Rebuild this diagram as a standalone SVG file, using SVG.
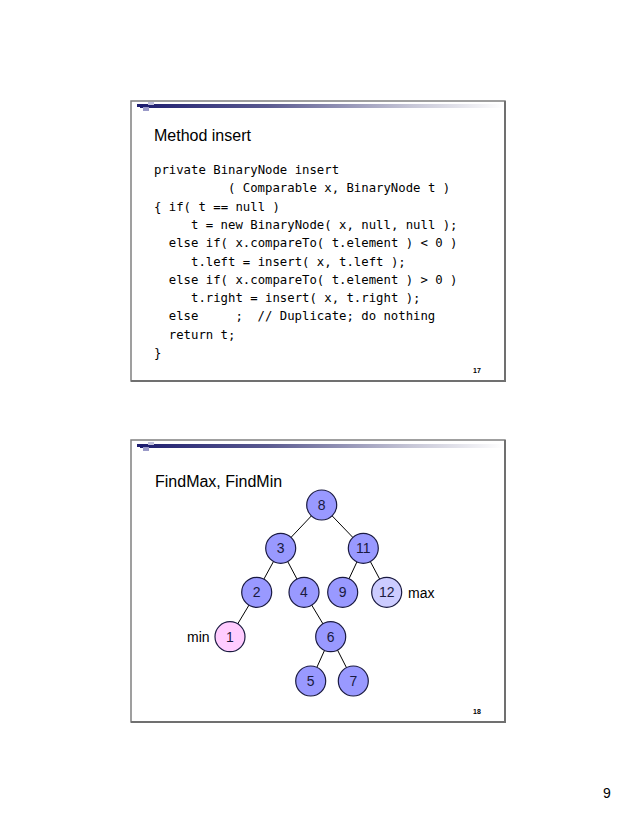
<svg xmlns="http://www.w3.org/2000/svg" width="638" height="826" viewBox="0 0 638 826">
<defs>
<linearGradient id="bar" x1="0" y1="0" x2="1" y2="0">
<stop offset="0" stop-color="#1e1e70"/>
<stop offset="0.35" stop-color="#5a5a90"/>
<stop offset="0.75" stop-color="#c8c8d8"/>
<stop offset="1" stop-color="#ffffff"/>
</linearGradient>
<style>
.slide{fill:#ffffff;stroke:#808080;stroke-width:1.5}
.shadow{fill:none;stroke:#707070;stroke-width:2}
.title{font-family:"Liberation Sans",Arial,sans-serif;font-size:16px;fill:#000}
.code{font-family:"DejaVu Sans Mono","Liberation Mono",monospace;font-size:12.3px;fill:#000}
.num{font-family:"Liberation Sans",Arial,sans-serif;font-size:7px;font-weight:bold;fill:#000;text-anchor:middle}
.node circle{fill:#9999ff;stroke:#1a1a40;stroke-width:1.2}
.node text{font-family:"Liberation Sans",Arial,sans-serif;font-size:14px;fill:#1a1a40;text-anchor:middle}
.lbl{font-family:"Liberation Sans",Arial,sans-serif;font-size:14px;fill:#000}
.edge{stroke:#000;stroke-width:1;fill:none}
</style>
</defs>
<rect width="638" height="826" fill="#ffffff"/>

<!-- Slide 17 -->
<g id="slide17">
<rect class="slide" x="131" y="101" width="374" height="280"/>
<path class="shadow" d="M505,101 V381 H131"/>
<rect x="140" y="104" width="364" height="4" fill="url(#bar)"/>
<rect x="137" y="104" width="6" height="3" fill="#1e1e70"/>
<rect x="143" y="107" width="6" height="4" fill="#9a9ac8"/>
<rect x="148" y="102" width="6" height="3" fill="#c0c0dc"/>
<text class="title" x="154" y="141">Method insert</text>
<g class="code">
<text x="154" y="174">private BinaryNode insert</text>
<text x="228" y="192.3">( Comparable x, BinaryNode t )</text>
<text x="154" y="210.6">{ if( t == null )</text>
<text x="191" y="228.9">t = new BinaryNode( x, null, null );</text>
<text x="168.8" y="247.2">else if( x.compareTo( t.element ) &lt; 0 )</text>
<text x="191" y="265.5">t.left = insert( x, t.left );</text>
<text x="168.8" y="283.8">else if( x.compareTo( t.element ) &gt; 0 )</text>
<text x="191" y="302.1">t.right = insert( x, t.right );</text>
<text y="320.4"><tspan x="168.8">else</tspan><tspan x="235.4">;</tspan><tspan x="257.6">// Duplicate; do nothing</tspan></text>
<text x="168.8" y="338.7">return t;</text>
<text x="154" y="357">}</text>
</g>
<text class="num" x="477" y="373">17</text>
</g>

<!-- Slide 18 -->
<g id="slide18">
<rect class="slide" x="131" y="440" width="374" height="282"/>
<path class="shadow" d="M505,440 V722 H131"/>
<rect x="140" y="444" width="364" height="4" fill="url(#bar)"/>
<rect x="137" y="444" width="6" height="3" fill="#1e1e70"/>
<rect x="143" y="447" width="6" height="4" fill="#9a9ac8"/>
<rect x="148" y="442" width="6" height="3" fill="#c0c0dc"/>
<text class="title" x="155" y="487">FindMax, FindMin</text>
<text class="num" x="477" y="714">18</text>
</g>

<!-- Tree connectors -->
<g id="connectors">
<line class="edge" x1="321.7" y1="505" x2="280.7" y2="548.3"/>
<line class="edge" x1="321.7" y1="505" x2="363.3" y2="548.3"/>
<line class="edge" x1="280.7" y1="548.3" x2="256.7" y2="592.3"/>
<line class="edge" x1="280.7" y1="548.3" x2="304" y2="592.3"/>
<line class="edge" x1="363.3" y1="548.3" x2="342.7" y2="592.3"/>
<line class="edge" x1="363.3" y1="548.3" x2="386.7" y2="592.3"/>
<line class="edge" x1="256.7" y1="592.3" x2="230" y2="636.7"/>
<line class="edge" x1="304" y1="592.3" x2="330.7" y2="636.7"/>
<line class="edge" x1="330.7" y1="636.7" x2="310.7" y2="681"/>
<line class="edge" x1="330.7" y1="636.7" x2="353.3" y2="681"/>
</g>

<!-- Tree nodes -->
<g id="n8" class="node"><circle cx="321.7" cy="505" r="15"/><text x="321.7" y="510">8</text></g>
<g id="n3" class="node"><circle cx="280.7" cy="548.3" r="15"/><text x="280.7" y="553.3">3</text></g>
<g id="n11" class="node"><circle cx="363.3" cy="548.3" r="15"/><text x="363.3" y="553.3">11</text></g>
<g id="n2" class="node"><circle cx="256.7" cy="592.3" r="15"/><text x="256.7" y="597.3">2</text></g>
<g id="n4" class="node"><circle cx="304" cy="592.3" r="15"/><text x="304" y="597.3">4</text></g>
<g id="n9" class="node"><circle cx="342.7" cy="592.3" r="15"/><text x="342.7" y="597.3">9</text></g>
<g id="n12" class="node"><circle cx="386.7" cy="592.3" r="15" style="fill:#ccccff"/><text x="386.7" y="597.3">12</text></g>
<g id="n1" class="node"><circle cx="230" cy="636.7" r="15" style="fill:#ffccff"/><text x="230" y="641.7">1</text></g>
<g id="n6" class="node"><circle cx="330.7" cy="636.7" r="15"/><text x="330.7" y="641.7">6</text></g>
<g id="n5" class="node"><circle cx="310.7" cy="681" r="15"/><text x="310.7" y="686">5</text></g>
<g id="n7" class="node"><circle cx="353.3" cy="681" r="15"/><text x="353.3" y="686">7</text></g>

<text class="lbl" x="408" y="597.5">max</text>
<text class="lbl" x="187" y="641.5">min</text>

<text x="607" y="798" font-family="'Liberation Sans',Arial,sans-serif" font-size="14" text-anchor="middle" fill="#000">9</text>
</svg>
